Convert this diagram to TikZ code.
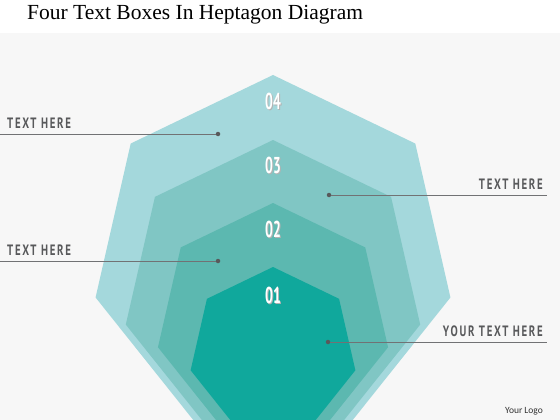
\documentclass[tikz,border=0pt]{standalone}
\usepackage{fontspec}
\setmainfont{Liberation Serif}
\newfontfamily\labelfont[LetterSpace=16]{PT Sans}
\newfontfamily\numfont{PT Sans}
\newfontfamily\logofont{Carlito}
\usetikzlibrary{shapes.geometric}

\definecolor{tealA}{HTML}{A4D8DC}
\definecolor{tealB}{HTML}{80C6C4}
\definecolor{tealC}{HTML}{5CB8B0}
\definecolor{tealD}{HTML}{10A89C}
\definecolor{inkgray}{HTML}{58595B}

\tikzset{
  hepta/.style={regular polygon, regular polygon sides=7, inner sep=0pt,
    minimum size=#1},
  numlabel/.style={font=\numfont\bfseries\fontsize{23}{23}\selectfont,
    text=white, xscale=0.6, transform shape},
  txtlabel/.style={font=\labelfont\bfseries\fontsize{15}{15}\selectfont,
    text=inkgray, inner sep=0pt, xscale=0.72, transform shape},
  dot/.style={circle, fill=inkgray, inner sep=0pt, minimum size=4.5pt},
  callout/.style={draw=inkgray!85, line width=0.8pt}
}

\begin{document}
\begin{tikzpicture}[x=1pt,y=-1pt]

    \useasboundingbox (0,0) rectangle (560,420);
    \clip (0,0) rectangle (560,420);

    % background
    \fill[white] (0,0) rectangle (560,33);
    \fill[gray!6] (0,33) rectangle (560,420);

    % title
    \node[anchor=west, font=\fontsize{21.5}{22}\selectfont, inner sep=0pt]
      (title) at (27,15) {Four Text Boxes In Heptagon Diagram};

    % heptagons
    \node[hepta=364pt, fill=tealA] (h4) at (273,257) {};
    \node[hepta=302pt, fill=tealB] (h3) at (273,291) {};
    \node[hepta=236pt, fill=tealC] (h2) at (273,321) {};
    \node[hepta=169pt, fill=tealD] (h1) at (273,351.5) {};

    % numbers
    \node[numlabel, text=black!30] at (274,102) {04};
    \node[numlabel] (n4) at (273,101) {04};
    \node[numlabel, text=black!30] at (274,166) {03};
    \node[numlabel] (n3) at (273,165) {03};
    \node[numlabel, text=black!30] at (274,230) {02};
    \node[numlabel] (n2) at (273,229) {02};
    \node[numlabel, text=black!30] at (274,296) {01};
    \node[numlabel] (n1) at (273,295) {01};

    % dots
    \node[dot] (d4) at (218,134) {};
    \node[dot] (d3) at (329,195) {};
    \node[dot] (d2) at (218,261) {};
    \node[dot] (d1) at (328,342) {};

    % line ends
    \coordinate (e4) at (0,134);
    \coordinate (e3) at (547,195);
    \coordinate (e2) at (0,261);
    \coordinate (e1) at (547,342);

    \draw[callout] (e4) -- (d4);
    \draw[callout] (d3) -- (e3);
    \draw[callout] (e2) -- (d2);
    \draw[callout] (d1) -- (e1);

    % texts
    \node[txtlabel, anchor=west] (t4) at (7,123) {TEXT HERE};
    \node[txtlabel, anchor=east] (t3) at (543,184) {TEXT HERE};
    \node[txtlabel, anchor=west] (t2) at (7,250) {TEXT HERE};
    \node[txtlabel, anchor=east] (t1) at (543,331) {YOUR TEXT HERE};

    % logo
    \node[font=\logofont\fontsize{9.5}{9.5}\selectfont, text=black!80]
      (logo) at (524,411) {Your Logo};

  \end{tikzpicture}
\end{document}
